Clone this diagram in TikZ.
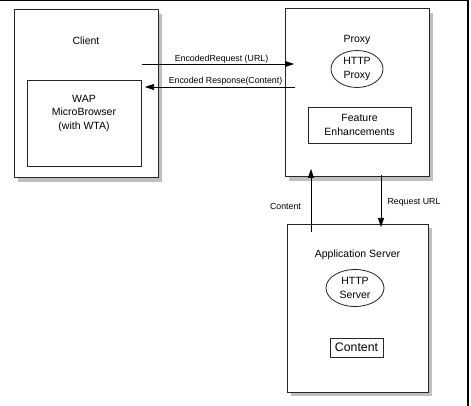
\documentclass[tikz,border=0pt]{standalone}
\usepackage{fontspec}
\setmainfont{Liberation Sans}
\usetikzlibrary{arrows.meta,shapes.geometric,shadows}

\begin{document}
\begin{tikzpicture}[x=1pt, y=-1pt, >={Triangle[length=9pt,width=6pt]}, semithick]
	\tikzset{
		outer/.style={draw=black!85, line width=1pt, fill=white, minimum width=144pt, minimum height=168pt,
			drop shadow={shadow xshift=4pt, shadow yshift=-4pt, opacity=1, fill=black!25}},
		inner/.style={draw=black!85, line width=0.8pt, fill=white},
		oval/.style={ellipse, draw=black!85, line width=0.8pt, inner sep=0pt, align=center, font=\fontsize{10.5}{13.5}\selectfont},
		title/.style={font=\fontsize{10.5}{13.5}\selectfont, align=center},
		msg/.style={font=\fontsize{8.8}{10}\selectfont}
	}
	\useasboundingbox (0,0) rectangle (471,406);
	\draw[line width=1.2pt] (0,0.6) -- (468,0.6) -- (468,406);

	% client side
	\node[outer]                                      (client)  at (86,94)    {};
	\node[title]                                      (clientT) at (86,41)    {Client};
	\node[inner, minimum width=114pt, minimum height=86pt] (wap) at (84,123) {};
	\node[title]                                      (wapT)    at (84,113)   {WAP\\MicroBrowser\\(with WTA)};

	% proxy
	\node[outer]                                      (proxy)   at (357,93)   {};
	\node[title]                                      (proxyT)  at (357,40)   {Proxy};
	\node[oval, minimum width=52pt, minimum height=37pt] (hproxy) at (357,69) {HTTP\\Proxy};
	\node[inner, title, minimum width=103pt, minimum height=36pt] (feat) at (359.5,125) {Feature\\Enhancements};

	% application server
	\node[outer, minimum width=141pt]                 (app)     at (357.5,308) {};
	\node[title]                                      (appT)    at (357.5,255) {Application Server};
	\node[oval, minimum width=58pt, minimum height=37pt] (hserver) at (355,288) {HTTP\\Server};
	\node[inner, font=\fontsize{12.3}{14}\selectfont, minimum width=53pt, minimum height=19pt, inner sep=1pt] (content) at (356.5,347.5) {Content};

	% messages
	\coordinate (reqA) at (142,64);
	\coordinate (reqB) at (294,64);
	\coordinate (resA) at (295,87);
	\coordinate (resB) at (145,87);
	\coordinate (upA)  at (311,232);
	\coordinate (upB)  at (311,169);
	\coordinate (dnA)  at (381,175);
	\coordinate (dnB)  at (381,227);
	\draw[->] (reqA) -- (reqB);
	\draw[->] (resA) -- (resB);
	\draw[->] (upA) -- (upB);
	\draw[->] (dnA) -- (dnB);
	\node[msg] (reqL) at (221.5,59)  {EncodedRequest (URL)};
	\node[msg] (resL) at (225.5,81)  {Encoded Response(Content)};
	\node[msg] (upL)  at (285.5,206) {Content};
	\node[msg] (dnL)  at (414,202)   {Request URL};
\end{tikzpicture}
\end{document}
